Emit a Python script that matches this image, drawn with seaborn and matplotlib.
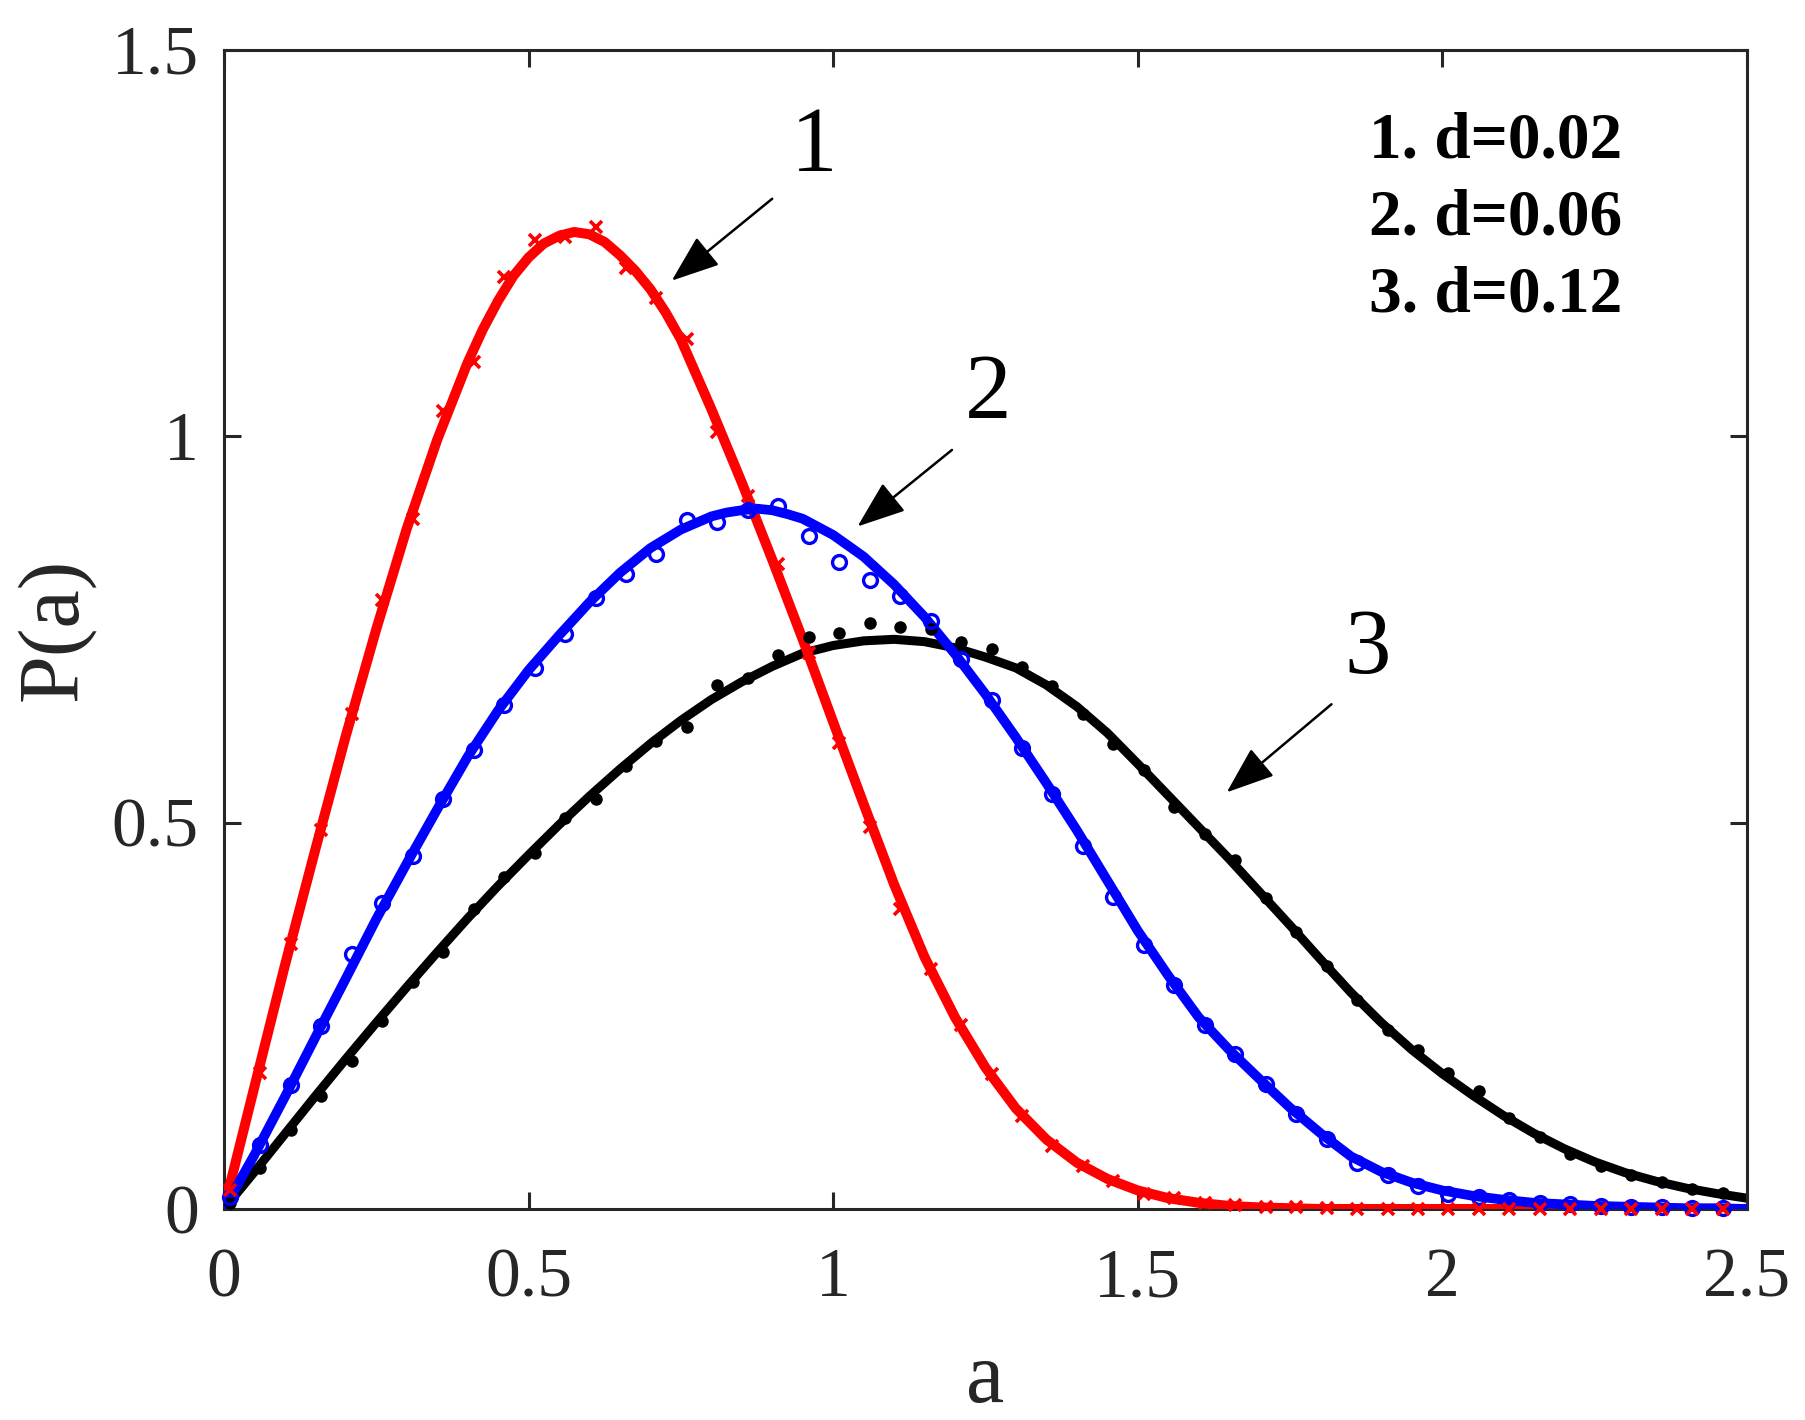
import numpy as np
import pandas as pd
import matplotlib
matplotlib.use("Agg")
import matplotlib.pyplot as plt
import seaborn as sns

# grid of the theoretical curves (a) and of the simulated points
a_line = [0.00, 0.05, 0.10, 0.15, 0.20, 0.25, 0.30, 0.35, 0.40, 0.45,
          0.50, 0.55, 0.60, 0.65, 0.70, 0.75, 0.80, 0.85, 0.90, 0.95,
          1.00, 1.05, 1.10, 1.15, 1.20, 1.25, 1.30, 1.35, 1.40, 1.45,
          1.50, 1.55, 1.60, 1.65, 1.70, 1.75, 1.80, 1.85, 1.90, 1.95,
          2.00, 2.05, 2.10, 2.15, 2.20, 2.25, 2.30, 2.35, 2.40, 2.45, 2.50]
a_pts = [0.01, 0.06, 0.11, 0.16, 0.21, 0.26, 0.31, 0.36, 0.41, 0.46,
         0.51, 0.56, 0.61, 0.66, 0.71, 0.76, 0.81, 0.86, 0.91, 0.96,
         1.01, 1.06, 1.11, 1.16, 1.21, 1.26, 1.31, 1.36, 1.41, 1.46,
         1.51, 1.56, 1.61, 1.66, 1.71, 1.76, 1.81, 1.86, 1.91, 1.96,
         2.01, 2.06, 2.11, 2.16, 2.21, 2.26, 2.31, 2.36, 2.41, 2.46]

# curve 1, d=0.02
p1_line = [0.0, 0.158, 0.315, 0.465, 0.612, 0.75, 0.88, 0.995, 1.095, 1.175,
           1.231, 1.259, 1.261, 1.234, 1.19, 1.125, 1.035, 0.94, 0.84, 0.737,
           0.63, 0.524, 0.42, 0.326, 0.248, 0.183, 0.13, 0.09, 0.06, 0.039,
           0.024, 0.014, 0.008, 0.004, 0.002, 0.001, 0.0, 0.0, 0.0, 0.0,
           0.0, 0.0, 0.0, 0.0, 0.0, 0.0, 0.0, 0.0, 0.0, 0.0, 0.0]
# extra readings of curve 1 around its peak
a_peak1 = [0.425, 0.475, 0.525, 0.575, 0.625, 0.675, 0.725]
p1_peak = [1.138, 1.207, 1.249, 1.264, 1.251, 1.214, 1.160]
p1_pts = [0.025, 0.176, 0.343, 0.490, 0.640, 0.788, 0.893, 1.033, 1.096, 1.206,
          1.253, 1.257, 1.271, 1.218, 1.179, 1.126, 1.005, 0.922, 0.835, 0.719,
          0.603, 0.494, 0.388, 0.311, 0.238, 0.174, 0.120, 0.081, 0.056, 0.036,
          0.019, 0.014, 0.008, 0.005, 0.003, 0.002, 0.001, 0.0, 0.0, 0.0,
          0.0, 0.0, 0.0, 0.0, 0.0, 0.0, 0.0, 0.0, 0.0, 0.0]

# curve 2, d=0.06
p2_line = [0.0, 0.07, 0.145, 0.222, 0.298, 0.375, 0.447, 0.517, 0.585, 0.645,
           0.697, 0.742, 0.785, 0.823, 0.855, 0.879, 0.896, 0.904, 0.904, 0.893,
           0.872, 0.844, 0.808, 0.766, 0.718, 0.666, 0.61, 0.551, 0.49, 0.425,
           0.36, 0.302, 0.248, 0.206, 0.168, 0.131, 0.098, 0.068, 0.048, 0.034,
           0.024, 0.017, 0.012, 0.008, 0.006, 0.004, 0.003, 0.002, 0.001, 0.001, 0.0]
a_peak2 = [0.825, 0.875, 0.925]
p2_peak = [0.901, 0.906, 0.899]
p2_pts = [0.015, 0.083, 0.160, 0.237, 0.330, 0.396, 0.457, 0.531, 0.594, 0.652,
          0.700, 0.744, 0.791, 0.821, 0.848, 0.892, 0.889, 0.904, 0.909, 0.871,
          0.837, 0.814, 0.793, 0.761, 0.712, 0.658, 0.596, 0.537, 0.469, 0.404,
          0.342, 0.290, 0.238, 0.201, 0.162, 0.123, 0.090, 0.060, 0.044, 0.030,
          0.019, 0.016, 0.012, 0.008, 0.006, 0.004, 0.003, 0.002, 0.001, 0.001]

# curve 3, d=0.12
p3_line = [0.0, 0.048, 0.097, 0.146, 0.194, 0.241, 0.287, 0.332, 0.376, 0.418,
           0.458, 0.497, 0.534, 0.569, 0.602, 0.632, 0.659, 0.682, 0.702, 0.719,
           0.729, 0.735, 0.737, 0.734, 0.726, 0.714, 0.700, 0.678, 0.650, 0.616,
           0.576, 0.535, 0.494, 0.453, 0.41, 0.367, 0.323, 0.28, 0.241, 0.206,
           0.175, 0.147, 0.121, 0.098, 0.078, 0.061, 0.047, 0.036, 0.027, 0.02, 0.014]
p3_pts = [0.008, 0.053, 0.102, 0.146, 0.192, 0.243, 0.294, 0.333, 0.388, 0.430,
          0.460, 0.506, 0.531, 0.573, 0.605, 0.624, 0.678, 0.687, 0.717, 0.740,
          0.745, 0.758, 0.753, 0.750, 0.733, 0.724, 0.701, 0.676, 0.640, 0.601,
          0.568, 0.520, 0.485, 0.451, 0.402, 0.358, 0.314, 0.270, 0.231, 0.206,
          0.176, 0.153, 0.118, 0.0925, 0.0717, 0.0556, 0.044, 0.035, 0.0255, 0.021]

legend_lines = ["1. d=0.02", "2. d=0.06", "3. d=0.12"]
x_ticks = [0, 0.5, 1, 1.5, 2, 2.5]
x_ticklabels = ["0", "0.5", "1", "1.5", "2", "2.5"]
y_ticks = [0, 0.5, 1, 1.5]
y_ticklabels = ["0", "0.5", "1", "1.5"]

sns.set_style("ticks")
plt.rcParams["font.family"] = ["Liberation Serif", "DejaVu Serif"]

line1 = pd.DataFrame({"a": a_line + a_peak1, "p": p1_line + p1_peak}).sort_values("a")
line2 = pd.DataFrame({"a": a_line + a_peak2, "p": p2_line + p2_peak}).sort_values("a")
line3 = pd.DataFrame({"a": a_line, "p": p3_line})
pts = pd.DataFrame({"a": a_pts, "p1": p1_pts, "p2": p2_pts, "p3": p3_pts})

fig, ax = plt.subplots(figsize=(18.06, 14.2), dpi=100)
fig.subplots_adjust(left=0.124, right=0.9673, bottom=0.1486, top=0.9651)

# theoretical curves
sns.lineplot(data=line3, x="a", y="p", color="black", lw=6.5, estimator=None, ax=ax, zorder=2)
sns.lineplot(data=line1, x="a", y="p", color="red", lw=7.2, estimator=None, ax=ax, zorder=3)
sns.lineplot(data=line2, x="a", y="p", color="blue", lw=7, estimator=None, ax=ax, zorder=4)

# simulated points
sns.lineplot(data=pts, x="a", y="p3", color="black", linestyle="", marker="o",
             markersize=9, markerfacecolor="black", markeredgewidth=0,
             estimator=None, ax=ax, zorder=5, clip_on=False)
sns.lineplot(data=pts, x="a", y="p2", color="blue", linestyle="", marker="o",
             markersize=10, markerfacecolor="none", markeredgecolor="blue",
             markeredgewidth=2.4, estimator=None, ax=ax, zorder=6, clip_on=False)
sns.lineplot(data=pts, x="a", y="p1", color="red", linestyle="", marker="x",
             markersize=8, markeredgecolor="red", markeredgewidth=2.6,
             estimator=None, ax=ax, zorder=7, clip_on=False)

ax.set_xlim(0, 2.5)
ax.set_ylim(0, 1.5)
ax.set_xticks(x_ticks)
ax.set_xticklabels(x_ticklabels)
ax.set_yticks(y_ticks)
ax.set_yticklabels(y_ticklabels)
ax.tick_params(direction="in", length=12.5, width=2.2, labelsize=50, colors="#262626",
               top=True, right=True)
ax.tick_params(axis="x", pad=28)
ax.tick_params(axis="y", pad=18)
for s in ax.spines.values():
    s.set_linewidth(2.2)
    s.set_color("#262626")

ax.set_xlabel("a", fontsize=62, color="#262626", labelpad=22)
ax.set_ylabel("P(a)", fontsize=62, color="#262626", labelpad=12)

# arrows with curve numbers
arrow_kw = dict(arrowstyle="-|>,head_length=1.2,head_width=0.45", mutation_scale=25,
                lw=1.8, color="black", shrinkA=0, shrinkB=0)
ax.annotate("", xy=(0.735, 1.201), xytext=(0.900, 1.307), arrowprops=arrow_kw)
ax.annotate("", xy=(1.040, 0.883), xytext=(1.195, 0.982), arrowprops=arrow_kw)
ax.annotate("", xy=(1.646, 0.539), xytext=(1.818, 0.653), arrowprops=arrow_kw)
ax.text(0.968, 1.372, "1", fontsize=67, color="black", ha="center", va="center")
ax.text(1.255, 1.052, "2", fontsize=67, color="black", ha="center", va="center")
ax.text(1.877, 0.723, "3", fontsize=67, color="black", ha="center", va="center")

for i, t in enumerate(legend_lines):
    ax.text(1.879, 1.381 - i * 0.0995, t, fontsize=47, fontweight="bold",
            color="black", ha="left", va="center")

fig.savefig("out.png", dpi=100)
